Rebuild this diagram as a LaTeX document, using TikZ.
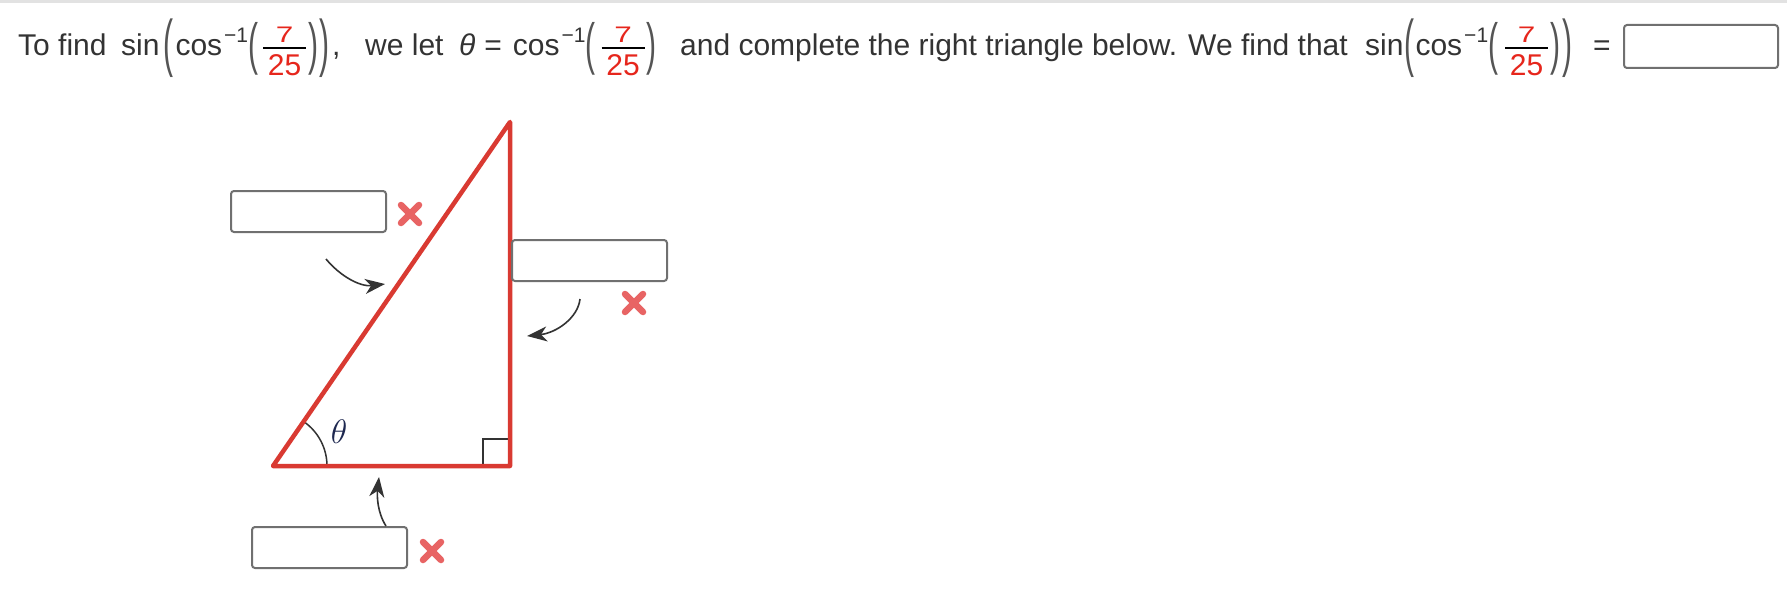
\documentclass[tikz,border=0pt]{standalone}
\usepackage{fix-cm}
\usepackage{graphicx}
\usepackage{fontspec}
\setmainfont{Liberation Sans}
\usetikzlibrary{arrows.meta}
\definecolor{txt}{HTML}{333333}
\definecolor{parc}{HTML}{555555}
\definecolor{fr}{HTML}{E6261C}
\definecolor{tri}{HTML}{D93A32}
\definecolor{xm}{HTML}{E86464}
\definecolor{boxc}{HTML}{707070}
\definecolor{rulec}{HTML}{E2E2E2}
\definecolor{thc}{HTML}{1E2850}
% stretched thin parentheses
\newcommand{\lpo}{\raisebox{-8.2pt}{\color{parc}\scalebox{1}[2.1]{(}}}
\newcommand{\rpo}{\raisebox{-8.2pt}{\color{parc}\scalebox{1}[2.1]{)}}}
\newcommand{\lpi}{\raisebox{-7.5pt}{\color{parc}\scalebox{1}[1.89]{(}}}
\newcommand{\rpi}{\raisebox{-7.5pt}{\color{parc}\scalebox{1}[1.89]{)}}}
\newcommand{\supm}{\hspace{2pt}\raisebox{13pt}{\fontsize{21}{21}\selectfont −1}}
\newcommand{\fbx}{\makebox[43pt]{\rlap{\raisebox{13.4pt}{\makebox[43pt]{\color{fr}\scalebox{1.05}[0.75]{7}}}}\rlap{\color{black}\rule[7pt]{43pt}{2pt}}\raisebox{-20pt}{\makebox[43pt]{\color{fr}25}}}}
\begin{document}
\begin{tikzpicture}[x=1pt,y=-1pt,
  txtnode/.style={inner sep=0pt, anchor=base west, text=txt, font=\fontsize{30}{36}\selectfont},
  ansbox/.style={draw=boxc, line width=2pt, rounded corners=3pt, minimum width=155pt, minimum height=41pt, inner sep=0pt},
  side/.style={draw=tri, line width=4.5pt, line join=round},
  pointer/.style={draw=txt, line width=1.6pt, -{Stealth[length=20pt,width=15pt,inset=6pt]}},
  xmark/.pic={\draw[xm, line width=6.5pt, line cap=round] (-9,-9) -- (9,9) (-9,9) -- (9,-9);}
]
\useasboundingbox (0,0) rectangle (1787,607);
\fill[white] (0,0) rectangle (1787,607);
\draw[rulec, line width=3pt] (0,2) -- (1787,2);

% text line
\node[txtnode] (t1) at (18,56) {To find};
\node[txtnode] (m1) at (121,56) {sin\hspace{4pt}\lpo\hspace{2pt}cos\supm\lpi\hspace{5pt}\fbx\hspace{2pt}\rpi\hspace{1pt}\rpo\hspace{3pt},};
\node[txtnode] (t2) at (365,56) {we let};
\node[txtnode] (m2) at (459,56) {\textit{θ}\hspace{9pt}=\hspace{11pt}cos\supm\lpi\hspace{6pt}\fbx\hspace{2pt}\rpi};
\node[txtnode] (t3) at (680,56) {and complete the right triangle below. We find that};
\node[txtnode] (m3) at (1365,56) {sin\hspace{1pt}\lpo\hspace{1pt}cos\supm\lpi\hspace{7pt}\fbx\hspace{2pt}\rpi\hspace{2pt}\rpo};
\node[txtnode] (eq) at (1593,56) {=};
\node[ansbox, minimum width=154pt, minimum height=43pt] (ans) at (1701,46.5) {};

% triangle
\coordinate (A) at (273,466);
\coordinate (B) at (510,466);
\coordinate (C) at (510,122);
\draw[txt, line width=1.5pt] (483,466) -- (483,439) -- (510,439);
\draw[txt, line width=1.5pt] (327,466) arc[start angle=0, end angle=55.4, radius=54pt];
\draw[side] (A) -- (B) -- (C) -- cycle;
\node[text=thc, font=\fontsize{34}{34}\selectfont, inner sep=0pt] (th) at (339,432) {$\theta$};

% answer boxes
\node[ansbox] (b1) at (308.5,211.5) {};
\node[ansbox] (b2) at (589.5,260.5) {};
\node[ansbox] (b3) at (329.5,547.5) {};

% crosses
\pic at (410,214) {xmark};
\pic at (634,303) {xmark};
\pic at (432,551) {xmark};

% pointers
\coordinate (s1) at (326,259); \coordinate (e1) at (385,284);
\coordinate (s2) at (580,299); \coordinate (e2) at (527,336);
\coordinate (s3) at (386,526); \coordinate (e3) at (379,477);
\draw[pointer] (s1) .. controls (340,276) and (360,287) .. (e1);
\draw[pointer] (s2) .. controls (578,318) and (556,333) .. (e2);
\draw[pointer] (s3) .. controls (377,512) and (377,495) .. (e3);
\end{tikzpicture}
\end{document}
